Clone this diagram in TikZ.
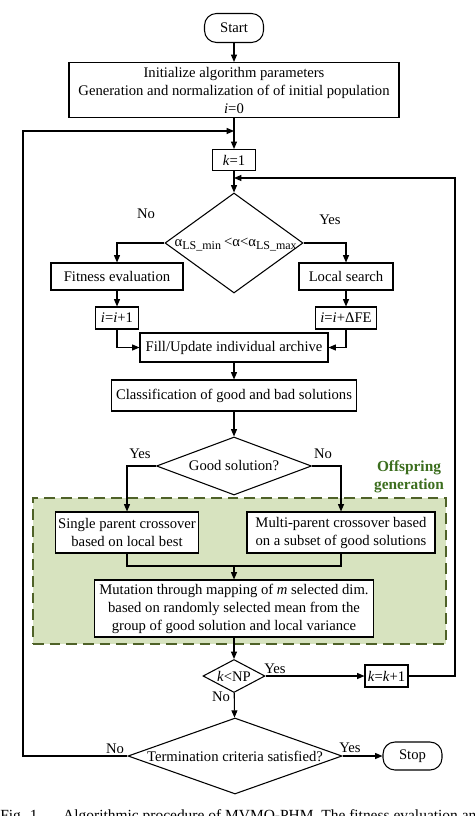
\documentclass[tikz,border=0pt]{standalone}
\usepackage{fontspec}
\setmainfont{Liberation Serif}
\usetikzlibrary{shapes.geometric,arrows.meta}
\definecolor{offfill}{HTML}{D7E3BF}
\definecolor{offline}{HTML}{4F6228}
\definecolor{offtext}{HTML}{3C6E1E}
\begin{document}
\begin{tikzpicture}[x=0.75pt,y=-0.75pt,
  every node/.style={font=\fontsize{11}{13.5}\selectfont},
  proc/.style={draw, line width=0.8pt, fill=white, inner sep=0pt, align=center},
  term/.style={proc, rounded corners=9pt},
  dia/.style={draw, line width=0.8pt, fill=white, diamond, inner sep=0pt},
  arr/.style={line width=0.8pt, -{Triangle[length=5.5pt,width=4.5pt]}},
  ln/.style={line width=0.8pt},
  lbl/.style={inner sep=0pt},
  offbox/.style={draw=offline, fill=offfill, line width=2pt, dash pattern=on 8pt off 4.5pt, inner sep=0pt}
]
\useasboundingbox (0,0) rectangle (474,816);

% offspring generation area
\node[offbox, minimum width=413*0.75pt, minimum height=146*0.75pt] (off) at (239.5,571) {};
\node[lbl, align=center, text=offtext, font=\fontsize{11.5}{13.5}\selectfont\bfseries] (offlbl) at (409,477) {Offspring\\generation};

% nodes
\node[term, minimum width=59*0.75pt, minimum height=29*0.75pt] (start) at (234,28) {Start};
\node[proc, minimum width=330*0.75pt, minimum height=55*0.75pt] (init) at (234,90)
  {Initialize algorithm parameters\\ Generation and normalization of of initial population\\ \textit{i}=0};
\node[proc, minimum width=43*0.75pt, minimum height=21*0.75pt] (k1) at (234,160) {\textit{k}=1};
\node[dia, minimum width=138*0.75pt, minimum height=100*0.75pt] (d1) at (234,243) {};
\node[lbl] (d1t) at (236,245) {α\textsubscript{\fontsize{9}{9}\selectfont LS\_min}\,<α<α\textsubscript{\fontsize{9}{9}\selectfont LS\_max}};
\node[proc, minimum width=132*0.75pt, minimum height=27*0.75pt] (fit) at (117,276.5) {Fitness evaluation};
\node[proc, minimum width=94*0.75pt, minimum height=27*0.75pt] (ls) at (346,276.5) {Local search};
\node[proc, minimum width=43*0.75pt, minimum height=22*0.75pt] (ii1) at (117,318) {\textit{i}=\textit{i}+1};
\node[proc, minimum width=61*0.75pt, minimum height=22*0.75pt] (iife) at (346,318) {\textit{i}=\textit{i}+ΔFE};
\node[proc, minimum width=188*0.75pt, minimum height=29*0.75pt] (fill) at (234,347.5) {Fill/Update individual archive};
\node[proc, minimum width=245*0.75pt, minimum height=31*0.75pt] (cls) at (234,395.5) {Classification of good and bad solutions};
\node[dia, minimum width=155*0.75pt, minimum height=58*0.75pt] (d2) at (234,466) {};
\node[lbl] (d2t) at (234,466) {Good solution?};
\node[proc, minimum width=143*0.75pt, minimum height=41*0.75pt] (sp) at (127,532.5) {Single parent crossover\\ based on local best};
\node[proc, minimum width=188*0.75pt, minimum height=41*0.75pt] (mp) at (341,532.5) {Multi-parent crossover based\\ on a subset of good solutions};
\node[proc, minimum width=279*0.75pt, minimum height=57*0.75pt] (mut) at (234,608.5)
  {Mutation through mapping of \textit{m} selected dim.\\ based on randomly selected mean from the\\ group of good solution and local variance};
\node[dia, minimum width=62*0.75pt, minimum height=33*0.75pt] (d3) at (234,676) {};
\node[lbl] (d3t) at (234,676) {\textit{k}<NP};
\node[proc, minimum width=43*0.75pt, minimum height=22*0.75pt] (kk1) at (386.5,676) {\textit{k}=\textit{k}+1};
\node[dia, minimum width=214*0.75pt, minimum height=76*0.75pt] (d4) at (235,756) {};
\node[lbl] (d4t) at (235,756) {Termination criteria satisfied?};
\node[term, minimum width=59*0.75pt, minimum height=28*0.75pt] (stop) at (412.5,756) {Stop};

% labels
\node[lbl] (no1) at (146,214) {No};
\node[lbl] (yes1) at (330,220) {Yes};
\node[lbl] (yes2) at (140,454) {Yes};
\node[lbl] (no2) at (323,454) {No};
\node[lbl] (yes3) at (275,669) {Yes};
\node[lbl] (no3) at (221,697) {No};
\node[lbl] (no4) at (115,749) {No};
\node[lbl] (yes4) at (350,748) {Yes};

% caption (cut by the page edge, as in the reference)
\node[lbl, anchor=base west, font=\fontsize{11.6}{13.5}\selectfont] (cap) at (0,820) {Fig. 1.\hspace{1.4em}Algorithmic procedure of MVMO-PHM. The fitness evaluation and};

% helper coordinates
\coordinate (j1) at (234,131);
\coordinate (lc) at (23,131);
\coordinate (j2) at (234,178);
\coordinate (rc) at (455,178);
\coordinate (jm) at (234,566);

% connectors
\draw[arr] (start) -- (init);
\draw[arr] (init) -- (k1);
\draw[arr] (k1) -- (d1);
\draw[arr] (d1.west) -| (fit.north);
\draw[arr] (d1.east) -| (ls.north);
\draw[arr] (fit) -- (ii1);
\draw[arr] (ls) -- (iife);
\draw[arr] (ii1.south) |- (fill.west);
\draw[arr] (iife.south) |- (fill.east);
\draw[arr] (fill) -- (cls);
\draw[arr] (cls) -- (d2);
\draw[arr] (d2.west) -| (sp.north);
\draw[arr] (d2.east) -| (mp.north);
\draw[ln] (sp.south) |- (jm) -| (mp.south);
\draw[arr] (jm) -- (mut.north);
\draw[arr] (mut) -- (d3);
\draw[arr] (d3.east) -- (kk1.west);
\draw[arr] (kk1.east) -| (rc) -- (j2);
\draw[arr] (d3) -- (d4);
\draw[arr] (d4.east) -- (stop.west);
\draw[arr] (d4.west) -| (lc) -- (j1);
\end{tikzpicture}
\end{document}
